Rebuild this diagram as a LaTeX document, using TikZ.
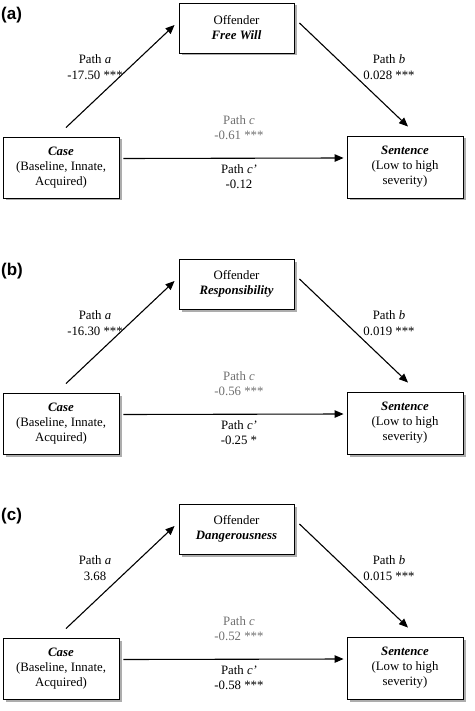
\documentclass[tikz,border=0pt]{standalone}
\usepackage{fontspec}
\setmainfont{Liberation Serif}
\newfontfamily\panelfont{Liberation Sans}
\usepackage{xcolor}
\usetikzlibrary{arrows.meta,shadows}
\definecolor{PathGray}{HTML}{707070}
\definecolor{ShadowGray}{HTML}{8A8A8A}
\tikzset{
  varbox/.style={
    draw=black,
    line width=0.9pt,
    fill=white,
    align=center,
    inner sep=2pt,
    font=\fontsize{12.8}{15}\selectfont,
    drop shadow={shadow xshift=2.5pt, shadow yshift=-2.5pt, fill=ShadowGray, opacity=0.7}
  },
  pathlabel/.style={
    align=center,
    text=#1,
    font=\fontsize{12.8}{15.5}\selectfont
  },
  pathlabel/.default=black,
  patharrow/.style={
    -{Triangle[length=9pt,width=7.5pt]},
    line width=1.1pt
  },
  panellabel/.style={
    font=\panelfont\bfseries\fontsize{17}{20}\selectfont,
    inner sep=0pt
  }
}
% #1 panel tag, #2 vertical offset, #3 mediator, #4 path a, #5 path b, #6 path c, #7 path c'
\newcommand{\mediationpanel}[7]{%
  \begin{scope}[yshift=-#2pt]
    \node[panellabel, anchor=west] (#1tag) at (1,-15) {(#1)};
    \node[varbox, minimum width=115pt, minimum height=50pt] (#1med) at (236.5,-28)
      {Offender\\\textbf{\textit{#3}}};
    \node[varbox, minimum width=116pt, minimum height=61pt] (#1case) at (61,-167.5)
      {\textbf{\textit{Case}}\\(Baseline, Innate,\\Acquired)};
    \node[varbox, minimum width=116pt, minimum height=62pt] (#1sent) at (405,-167)
      {\textbf{\textit{Sentence}}\\(Low to high\\severity)};
    \draw[patharrow] ([xshift=5pt,yshift=9pt]#1case.north) -- ([xshift=-4pt,yshift=3pt]#1med.west);
    \draw[patharrow] ([xshift=5pt,yshift=5pt]#1med.east) -- ([xshift=3pt,yshift=9pt]#1sent.north);
    \draw[patharrow] ([xshift=4pt,yshift=9pt]#1case.east) -- ([xshift=-3pt,yshift=9pt]#1sent.west);
    \node[pathlabel] (#1pa) at (95,-67) {Path \textit{a}\\#4};
    \node[pathlabel] (#1pb) at (389,-67) {Path \textit{b}\\#5};
    \node[pathlabel=PathGray] (#1pc) at (239,-127.5) {Path \textit{c}\\#6};
    \node[pathlabel] (#1pcp) at (239,-176.5) {Path \textit{c'}\\#7};
  \end{scope}}

\begin{document}
\begin{tikzpicture}[x=1pt,y=1pt]
\useasboundingbox (0,0) rectangle (474,-711);

% Panel (a): free will as mediator.
\mediationpanel{a}{0}{Free Will}{-17.50 ***}{0.028 ***}{-0.61 ***}{-0.12}

% Panel (b): responsibility as mediator.
\mediationpanel{b}{256}{Responsibility}{-16.30 ***}{0.019 ***}{-0.56 ***}{-0.25 *}

% Panel (c): dangerousness as mediator.
\mediationpanel{c}{501}{Dangerousness}{3.68}{0.015 ***}{-0.52 ***}{-0.58 ***}

\end{tikzpicture}
\end{document}
